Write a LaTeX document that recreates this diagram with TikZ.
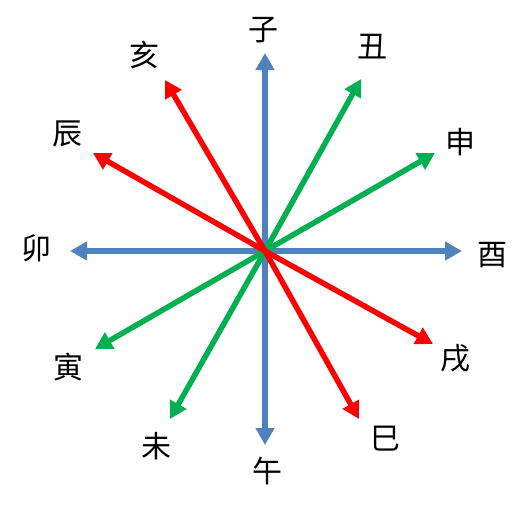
\documentclass[tikz,border=0pt]{standalone}
\usepackage{fontspec}
\newfontfamily\cjk{Noto Sans CJK SC}[Scale=1.0]
\usetikzlibrary{arrows.meta}
\definecolor{ablue}{HTML}{4F81BD}
\definecolor{agreen}{HTML}{00B050}
\definecolor{ared}{HTML}{FF0000}
\tikzset{
  ray/.style={line width=5.5pt, -{Triangle[length=17pt,width=18pt]}},
  lbl/.style={font=\cjk\fontsize{30}{30}\selectfont, inner sep=0pt}
}
\begin{document}
\begin{tikzpicture}[x=1pt,y=-1pt]
\useasboundingbox (0,0) rectangle (527,507);
\coordinate (o) at (265,251);
% tips
\coordinate (tN) at (265,53);
\coordinate (tS) at (265,445);
\coordinate (tW) at (70,251);
\coordinate (tE) at (462,251);
\coordinate (tChou) at (361,79);
\coordinate (tShen) at (435,153);
\coordinate (tYin) at (95,349);
\coordinate (tWei) at (170,419);
\coordinate (tHai) at (165,80);
\coordinate (tChen) at (93,153);
\coordinate (tXu) at (433,344);
\coordinate (tSi) at (359,419);
% labels
\node[lbl] (zi) at (263,30) {子};
\node[lbl] (chou) at (372,47) {丑};
\node[lbl] (shen) at (460,142) {申};
\node[lbl] (you) at (492,255) {酉};
\node[lbl] (xu) at (455,358) {戌};
\node[lbl] (si) at (385,439) {巳};
\node[lbl] (wu) at (267,471) {午};
\node[lbl] (wei) at (156,446) {未};
\node[lbl] (yin) at (68,367) {寅};
\node[lbl] (mao) at (36,248) {卯};
\node[lbl] (chen) at (67,134) {辰};
\node[lbl] (hai) at (144,55) {亥};
% arrows
\draw[ray, ablue] (o) -- (tN);
\draw[ray, ablue] (o) -- (tS);
\draw[ray, ablue] (o) -- (tW);
\draw[ray, ablue] (o) -- (tE);
\draw[ray, agreen] (o) -- (tChou);
\draw[ray, agreen] (o) -- (tShen);
\draw[ray, agreen] (o) -- (tYin);
\draw[ray, agreen] (o) -- (tWei);
\draw[ray, ared] (o) -- (tHai);
\draw[ray, ared] (o) -- (tChen);
\draw[ray, ared] (o) -- (tXu);
\draw[ray, ared] (o) -- (tSi);
\end{tikzpicture}
\end{document}
